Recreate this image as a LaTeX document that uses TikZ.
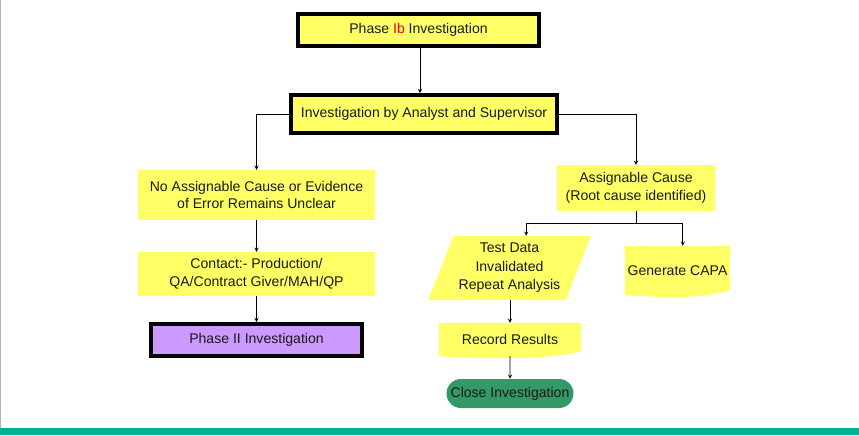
\documentclass[tikz,border=0pt]{standalone}
\usepackage{fontspec}
\setmainfont{Liberation Sans}
\usepackage{xcolor}
\usetikzlibrary{shapes.geometric}
\usetikzlibrary{shapes.misc}
\usetikzlibrary{backgrounds}

\definecolor{boxyellow}{HTML}{FFFF66}
\definecolor{boxpurple}{HTML}{CC99FF}
\definecolor{closegreen}{HTML}{339966}
\definecolor{barteal}{HTML}{00B294}
\definecolor{textgrey}{HTML}{1A1A1A}

\tikzset{
    every node/.style={font=\fontsize{12pt}{15pt}\selectfont, text=textgrey, align=center, inner sep=0pt},
    thickbox/.style={draw=black, line width=3.4pt, fill=boxyellow},
    plainbox/.style={fill=boxyellow},
    docbox/.style={},
    slantbox/.style={trapezium, trapezium stretches=true, trapezium left angle=65,
        trapezium right angle=115, fill=boxyellow},
    link/.style={-stealth, black, line width=0.6pt}
}

% yellow fill with a wavy lower edge, drawn behind a named node
\newcommand{\docfill}[1]{%
    \fill[boxyellow] (#1.north west) -- (#1.north east) -- ([yshift=0.15cm]#1.south east)
        .. controls +(-1.2cm,-0.3cm) and +(1.2cm,-0.05cm) .. (#1.south west) -- cycle;}

\begin{document}
\begin{tikzpicture}[x=0.03cm, y=-0.03cm]
        \useasboundingbox (0,0) rectangle (859,435);
        \fill[barteal] (0,428) rectangle (859,435);
        \draw[gray!60, line width=0.6pt] (0.5,0) -- (0.5,428);

        \node[thickbox, minimum width=7.23cm, minimum height=0.96cm] (phaseIb) at (418.5,30)
            {Phase \textcolor{red}{Ib} Investigation};
        \node[thickbox, minimum width=7.98cm, minimum height=1.14cm] (analyst) at (424,114)
            {Investigation by Analyst and Supervisor};

        \node[plainbox, minimum width=7.11cm, minimum height=1.5cm] (nocause) at (256.5,195)
            {No Assignable Cause or Evidence\\of Error Remains Unclear};
        \node[plainbox, minimum width=7.11cm, minimum height=1.32cm] (contact) at (256.5,274)
            {Contact:- Production/\\QA/Contract Giver/MAH/QP};
        \node[thickbox, fill=boxpurple, minimum width=6.33cm, minimum height=0.96cm] (phaseII) at (256.5,340)
            {Phase II Investigation};

        \node[plainbox, minimum width=4.74cm, minimum height=1.38cm] (cause) at (636,188)
            {Assignable Cause\\(Root cause identified)};
        \node[slantbox, font=\fontsize{12pt}{15.8pt}\selectfont, minimum width=4.89cm, minimum height=1.92cm] (retest) at (509.5,268)
            {Test Data\\Invalidated\\Repeat Analysis};
        \node[docbox, minimum width=3.15cm, minimum height=1.47cm] (capa) at (677.5,270.5)
            {Generate CAPA};
        \node[docbox, minimum width=4.26cm, minimum height=0.99cm] (record) at (510,339.5)
            {Record Results};
        \node[rounded rectangle, fill=closegreen, minimum width=3.81cm, minimum height=0.87cm] (close) at (510,393.5)
            {Close Investigation};

        \begin{scope}[on background layer]
            \docfill{capa}
            \docfill{record}
        \end{scope}

        \draw[link] (phaseIb.south -| 420,0) -- (analyst.north -| 420,0);
        \draw[link] (analyst.west) -| (nocause.north);
        \draw[link] (analyst.east) -| (cause.north);
        \draw[link] (nocause) -- (contact);
        \draw[link] (contact) -- (phaseII);

        \draw[black, line width=0.6pt] (cause.south) -- ++(0,12) coordinate (split);
        \draw[link] (split) -| ([xshift=0.5cm]retest.north);
        \draw[link] (split) -| ([xshift=0.16cm]capa.north);
        \draw[link] (retest.south -| record.north) -- (record.north);
        \draw[link] (record) -- (close);
    \end{tikzpicture}
\end{document}
